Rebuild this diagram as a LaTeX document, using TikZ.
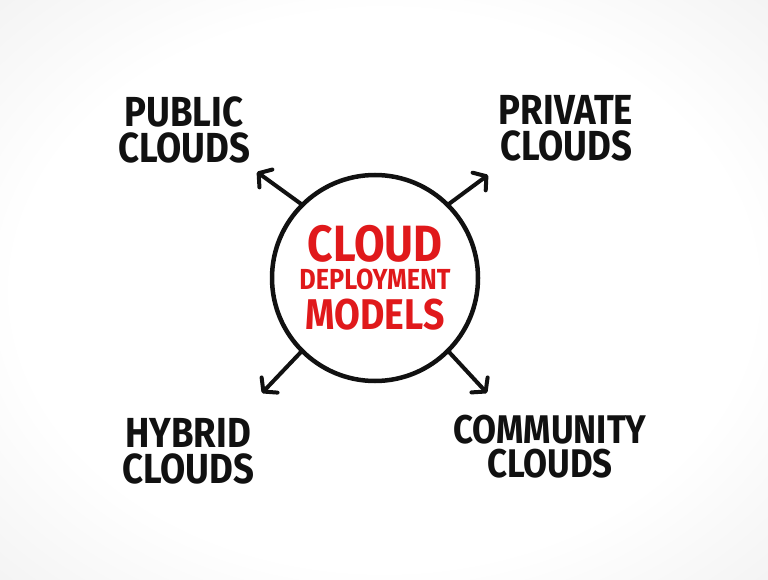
\documentclass[tikz,border=0pt]{standalone}
\usepackage{fontspec}
\usetikzlibrary{arrows.meta}
\newfontfamily\hand[FakeStretch=0.87]{Fira Sans Bold}
\definecolor{cloudred}{HTML}{E0191B}
\definecolor{ink}{HTML}{111111}
\pgfdeclareradialshading{bgshade}{\pgfpoint{0bp}{0bp}}{color(0bp)=(white); color(24bp)=(white); color(50bp)=(black!10); color(72bp)=(black!17)}
\tikzset{
  label/.style={align=center, text=ink, inner sep=0pt, font=\hand\fontsize{42}{36}\selectfont},
  arr/.style={draw=ink, line width=4pt, line cap=round, -{Straight Barb[length=9pt,width=22pt,round]}},
}
\begin{document}
\begin{tikzpicture}[x=1pt,y=-1pt]
\shade[shading=bgshade] (0,0) rectangle (768,580);
\useasboundingbox (0,0) rectangle (768,580);
\node[circle, draw=ink, line width=4.5pt, minimum size=206pt, inner sep=0pt, text=cloudred, align=center, font=\hand] (c) at (375,278)
  {\fontsize{51}{30}\selectfont CLOUD\\[6pt]\fontsize{29}{38}\selectfont DEPLOYMENT\\[8pt]\fontsize{43}{40}\selectfont MODELS};
\node[label] (pub) at (184,130) {PUBLIC\\CLOUDS};
\node[label] (pri) at (566,128) {PRIVATE\\CLOUDS};
\node[label] (hyb) at (188,451) {HYBRID\\CLOUDS};
\node[label, font=\hand\fontsize{40}{34}\selectfont] (com) at (550,447) {COMMUNITY\\CLOUDS};
\coordinate (tnw) at (257,172);
\coordinate (tne) at (488,175);
\coordinate (tsw) at (262,393);
\coordinate (tse) at (487,393);
\draw[arr] (c.135) -- (tnw);
\draw[arr] (c.45) -- (tne);
\draw[arr] (c.225) -- (tsw);
\draw[arr] (c.-45) -- (tse);
\end{tikzpicture}
\end{document}
